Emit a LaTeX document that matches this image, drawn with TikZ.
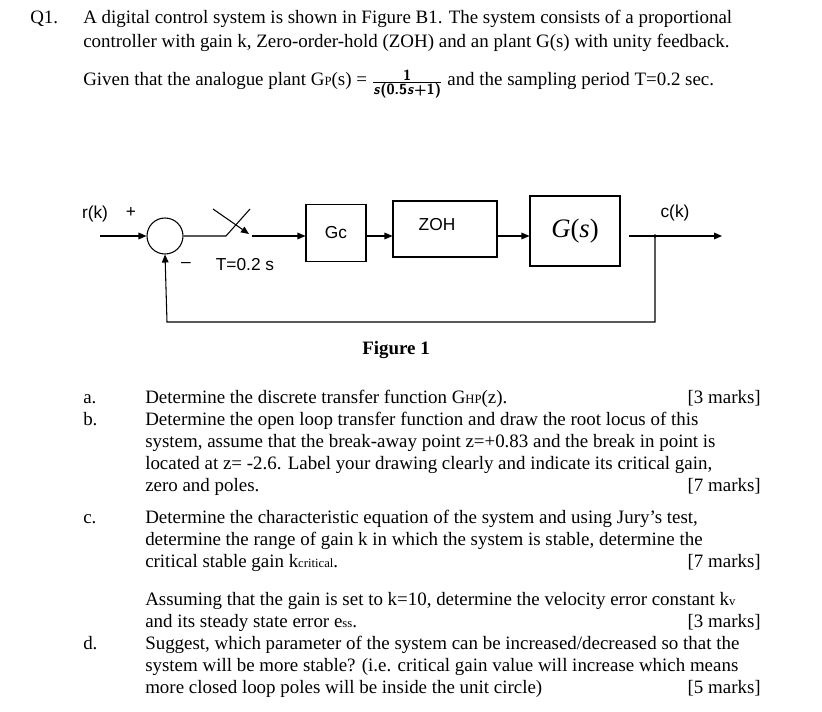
\documentclass[tikz,border=0pt]{standalone}
\usepackage{fontspec}
\setmainfont{Liberation Serif}
\newfontfamily\sansf{Liberation Sans}
\usetikzlibrary{arrows.meta}
\begin{document}
\begin{tikzpicture}[x=0.75pt,y=-0.75pt,
 txt/.style={anchor=base west,inner sep=0,font=\fontsize{14.2}{16}\selectfont},
 mk/.style={anchor=base east,inner sep=0,font=\fontsize{14.2}{16}\selectfont},
 lab/.style={inner sep=0,font=\sansf\fontsize{13}{15}\selectfont},
 blk/.style={draw,line width=0.8pt,inner sep=0},
 ar/.style={-{Triangle[length=6pt,width=5pt]},line width=0.8pt},
 ln/.style={line width=0.8pt}]
\useasboundingbox (0,0) rectangle (822,712);
\node[txt] (q) at (30,24) {Q1.};
\node[txt] (l1) at (83,24) {A digital control system is shown in Figure B1. The system consists of a proportional};
\node[txt] (l2) at (83,48) {controller with gain k, Zero-order-hold (ZOH) and an plant G(s) with unity feedback.};
\node[txt] (l3) at (83,86) {Given that the analogue plant G{\fontsize{9.5}{10}\selectfont P}(s) = {\sansf\bfseries\fontsize{11}{12}\selectfont $\frac{\textsf{\textbf{1}}}{\textsf{\textbf{\textit{s}(0.5\textit{s}+1)}}}$} and the sampling period T=0.2 sec.};
% diagram
\node[draw,circle,minimum size=36pt*0.75,inner sep=0,line width=0.8pt] (sum) at (165,236) {};
\coordinate (rin) at (100,236);
\draw[ar] (rin) -- (sum.west);
\node[lab] (rk) at (95,214) {r(k)};
\node[lab] (pl) at (131,213) {+};
\node[lab] (mi) at (186,265) {–};
\node[lab] (ts) at (245,265) {T=0.2 s};
\coordinate (s1) at (226,236);
\coordinate (s2) at (250,209);
\coordinate (s3) at (213,209);
\coordinate (s4) at (249,234);
\coordinate (s5) at (252,236);
\draw[ln] (sum.east) -- (s1) -- (s2);
\draw[ar] (s3) -- (s4);
\node[blk,minimum width=60*0.75pt,minimum height=57*0.75pt] (gc) at (336,233) {\sansf\fontsize{13}{15}\selectfont Gc};
\node[blk,minimum width=104*0.75pt,minimum height=56*0.75pt] (zoh) at (445,229) {};
\node[lab] (zt) at (437,225) {ZOH};
\node[blk,minimum width=90*0.75pt,minimum height=70*0.75pt] (gs) at (575,231) {\fontsize{20}{22}\selectfont\textit{G}(\textit{s})};
\draw[ar] (s5) -- (gc.west|-s5);
\draw[ar] (gc.east|-s5) -- (zoh.west|-s5);
\draw[ar] (zoh.east|-s5) -- (gs.west|-s5);
\coordinate (j) at (655,236);
\coordinate (out) at (722,236);
\coordinate (b1) at (655,322);
\coordinate (b2) at (167,322);
\draw[ar] (629,236) -- (out);
\fill (j) circle (1.8);
\node[lab] (ck) at (675,213) {c(k)};
\draw[ar] (j) -- (b1) -- (b2) -- (sum.south);
\node[txt,font=\bfseries\fontsize{14.2}{16}\selectfont,anchor=base] (fig) at (396,355) {Figure 1};
% questions
\node[txt] (a) at (83,404) {a.};
\node[txt] (at) at (145,404) {Determine the discrete transfer function G{\fontsize{9.5}{10}\selectfont HP}(z).};
\node[mk] (am) at (761,404) {[3 marks]};
\node[txt] (b) at (83,426) {b.};
\node[txt] (b1t) at (145,426) {Determine the open loop transfer function and draw the root locus of this};
\node[txt] (b2t) at (145,448) {system, assume that the break-away point z=+0.83 and the break in point is};
\node[txt] (b3t) at (145,470) {located at z= -2.6. Label your drawing clearly and indicate its critical gain,};
\node[txt] (b4t) at (145,492) {zero and poles.};
\node[mk] (bm) at (761,492) {[7 marks]};
\node[txt] (c) at (83,524) {c.};
\node[txt] (c1t) at (145,524) {Determine the characteristic equation of the system and using Jury’s test,};
\node[txt] (c2t) at (145,546) {determine the range of gain k in which the system is stable, determine the};
\node[txt] (c3t) at (145,568) {critical stable gain k{\fontsize{9.5}{10}\selectfont critical}.};
\node[mk] (cm) at (761,568) {[7 marks]};
\node[txt] (e1t) at (145,606) {Assuming that the gain is set to k=10, determine the velocity error constant k{\fontsize{9.5}{10}\selectfont v}};
\node[txt] (e2t) at (145,628) {and its steady state error e{\fontsize{9.5}{10}\selectfont ss}.};
\node[mk] (em) at (761,628) {[3 marks]};
\node[txt] (d) at (83,650) {d.};
\node[txt] (d1t) at (145,650) {Suggest, which parameter of the system can be increased/decreased so that the};
\node[txt] (d2t) at (145,672) {system will be more stable? (i.e. critical gain value will increase which means};
\node[txt] (d3t) at (145,694) {more closed loop poles will be inside the unit circle)};
\node[mk] (dm) at (761,694) {[5 marks]};
\end{tikzpicture}
\end{document}
